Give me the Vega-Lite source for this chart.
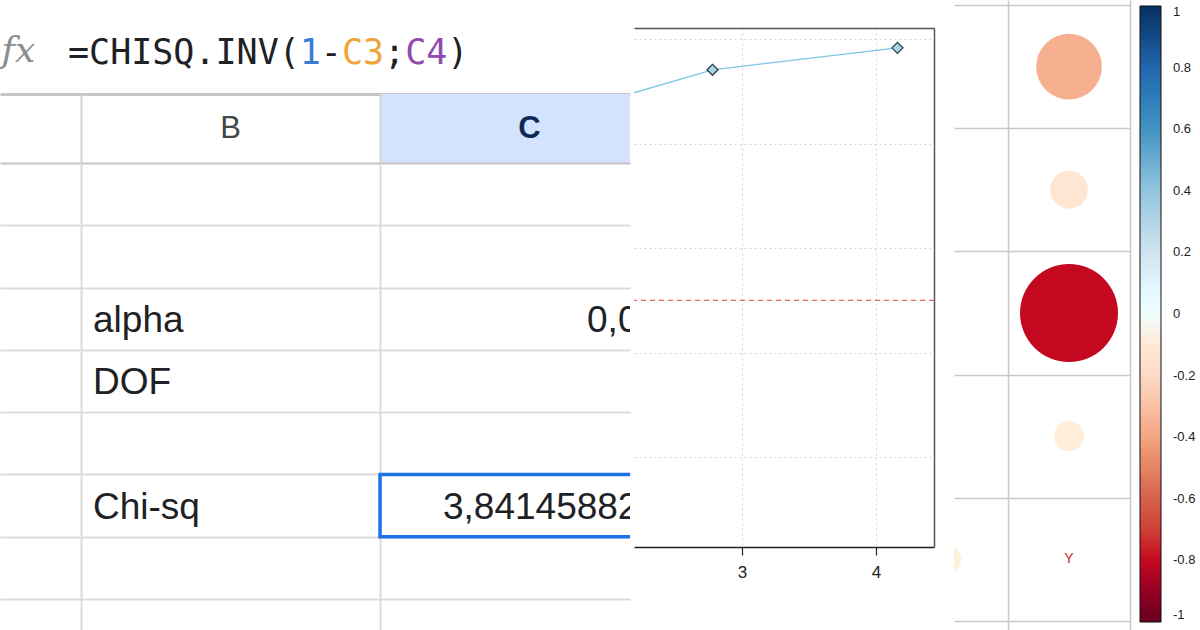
{
  "$schema": "https://vega.github.io/schema/vega-lite/v6.json",
  "padding": 0,
  "background": "white",
  "spacing": 3,
  "bounds": "full",
  "config": {"view": {"stroke": null}, "font": "Liberation Sans", "text": {"font": "Liberation Sans"}},
  "hconcat": [
    {
      "spacing": 0,
      "bounds": "flush",
      "vconcat": [
        {
          "width": 630,
          "height": 94,
          "data": {"values": [
            {"pos": -3.15, "text": "fx", "kind": "icon"},
            {"pos": 0, "text": "=CHISQ.INV(", "kind": "plain"},
            {"pos": 11, "text": "1", "kind": "number"},
            {"pos": 12, "text": "-", "kind": "plain"},
            {"pos": 13, "text": "C3", "kind": "ref1"},
            {"pos": 15, "text": ";", "kind": "plain"},
            {"pos": 16, "text": "C4", "kind": "ref2"},
            {"pos": 18, "text": ")", "kind": "plain"}
          ]},
          "layer": [
            {
              "transform": [{"filter": "datum.kind != 'icon'"}],
              "mark": {"type": "text", "font": "DejaVu Sans Mono", "fontSize": 35, "align": "left", "baseline": "alphabetic", "dy": 17},
              "encoding": {
                "x": {"field": "pos", "type": "quantitative", "scale": {"domain": [-3.227, 26.67], "nice": false, "zero": false},
                      "axis": {"orient": "bottom", "domain": true, "domainColor": "#c6c6c6", "domainWidth": 3, "ticks": false, "labels": false, "grid": false, "title": null}},
                "text": {"field": "text"},
                "color": {"field": "kind", "type": "nominal", "scale": {"domain": ["plain", "number", "ref1", "ref2"], "range": ["#202124", "#3a7bd5", "#f1a33c", "#8f4bb0"]}, "legend": null}
              }
            },
            {
              "transform": [{"filter": "datum.kind == 'icon'"}],
              "mark": {"type": "text", "font": "DejaVu Serif", "fontStyle": "italic", "fontSize": 36, "align": "left", "baseline": "alphabetic", "dy": 15, "color": "#8a8d91"},
              "encoding": {
                "x": {"field": "pos", "type": "quantitative", "scale": {"domain": [-3.227, 26.67], "nice": false, "zero": false},
                      "axis": {"orient": "bottom", "domain": true, "domainColor": "#c6c6c6", "domainWidth": 3, "ticks": false, "labels": false, "grid": false, "title": null}},
                "text": {"field": "text"}
              }
            }
          ]
        },
        {
          "width": 630,
          "height": 69,
          "data": {"values": [
            {"c": 2, "label": "B", "sel": "no"},
            {"c": 3, "label": "C", "sel": "yes"}
          ]},
          "transform": [
            {"calculate": "datum.c - 0.5", "as": "lo"},
            {"calculate": "datum.c + 0.5", "as": "hi"}
          ],
          "layer": [
            {
              "transform": [{"filter": "datum.sel == 'yes'"}],
              "mark": {"type": "rect", "color": "#d3e3fd", "clip": true},
              "encoding": {
                "x": {"field": "lo", "type": "quantitative", "scale": {"domain": [1.229, 3.336], "nice": false, "zero": false},
                      "axis": {"orient": "bottom", "domain": true, "domainColor": "#c6c6c6", "domainWidth": 2, "ticks": false, "labels": false, "grid": true, "gridColor": "#d3d3d3", "gridWidth": 2, "values": [1.5, 2.5], "title": null, "zindex": 1}},
                "x2": {"field": "hi"}
              }
            },
            {
              "transform": [{"filter": "datum.sel == 'no'"}],
              "mark": {"type": "text", "fontSize": 31, "baseline": "middle", "color": "#444746"},
              "encoding": {
                "x": {"field": "c", "type": "quantitative", "scale": {"domain": [1.229, 3.336], "nice": false, "zero": false},
                      "axis": {"orient": "bottom", "domain": true, "domainColor": "#c6c6c6", "domainWidth": 2, "ticks": false, "labels": false, "grid": true, "gridColor": "#d3d3d3", "gridWidth": 2, "values": [1.5, 2.5], "title": null, "zindex": 1}},
                "text": {"field": "label"}
              }
            },
            {
              "transform": [{"filter": "datum.sel == 'yes'"}],
              "mark": {"type": "text", "fontSize": 31, "fontWeight": "bold", "baseline": "middle", "color": "#0d2a57"},
              "encoding": {
                "x": {"field": "c", "type": "quantitative", "scale": {"domain": [1.229, 3.336], "nice": false, "zero": false},
                      "axis": {"orient": "bottom", "domain": true, "domainColor": "#c6c6c6", "domainWidth": 2, "ticks": false, "labels": false, "grid": true, "gridColor": "#d3d3d3", "gridWidth": 2, "values": [1.5, 2.5], "title": null, "zindex": 1}},
                "text": {"field": "label"}
              }
            }
          ]
        },
        {
          "width": 630,
          "height": 467,
          "data": {"values": [
            {"c": 2, "r": 3, "text": "alpha", "kind": "label", "selected": false},
            {"c": 2, "r": 4, "text": "DOF", "kind": "label", "selected": false},
            {"c": 2, "r": 6, "text": "Chi-sq", "kind": "label", "selected": false},
            {"c": 3, "r": 3, "text": "0,05", "kind": "value", "selected": false},
            {"c": 3, "r": 4, "text": "1", "kind": "value", "selected": false},
            {"c": 3, "r": 6, "text": "3,841458821", "kind": "value", "selected": true}
          ]},
          "transform": [
            {"calculate": "datum.c - 0.5", "as": "lo"},
            {"calculate": "datum.c + 0.5", "as": "hi"},
            {"calculate": "datum.r - 0.5", "as": "rlo"},
            {"calculate": "datum.r + 0.5", "as": "rhi"}
          ],
          "layer": [
            {
              "transform": [{"filter": "datum.kind == 'label'"}],
              "mark": {"type": "text", "fontSize": 37, "align": "left", "baseline": "alphabetic", "dx": 12, "dy": 13, "color": "#202124", "clip": true},
              "encoding": {
                "x": {"field": "lo", "type": "quantitative", "scale": {"domain": [1.229, 3.336], "nice": false, "zero": false},
                      "axis": {"orient": "bottom", "domain": false, "ticks": false, "labels": false, "grid": true, "gridColor": "#dcdcdc", "gridWidth": 2, "values": [1.5, 2.5], "title": null}},
                "y": {"field": "r", "type": "quantitative", "scale": {"domain": [0.5, 7.996], "reverse": true, "nice": false, "zero": false},
                      "axis": {"domain": false, "ticks": false, "labels": false, "grid": true, "gridColor": "#dcdcdc", "gridWidth": 2, "values": [1.5, 2.5, 3.5, 4.5, 5.5, 6.5, 7.5], "title": null, "minExtent": 0, "maxExtent": 0}},
                "text": {"field": "text"}
              }
            },
            {
              "transform": [{"filter": "datum.kind == 'value'"}],
              "mark": {"type": "text", "fontSize": 37, "align": "right", "baseline": "alphabetic", "dx": -20, "dy": 13, "color": "#202124", "clip": true},
              "encoding": {
                "x": {"field": "hi", "type": "quantitative", "scale": {"domain": [1.229, 3.336], "nice": false, "zero": false},
                      "axis": {"orient": "bottom", "domain": false, "ticks": false, "labels": false, "grid": true, "gridColor": "#dcdcdc", "gridWidth": 2, "values": [1.5, 2.5], "title": null}},
                "y": {"field": "r", "type": "quantitative", "scale": {"domain": [0.5, 7.996], "reverse": true, "nice": false, "zero": false},
                      "axis": {"domain": false, "ticks": false, "labels": false, "grid": true, "gridColor": "#dcdcdc", "gridWidth": 2, "values": [1.5, 2.5, 3.5, 4.5, 5.5, 6.5, 7.5], "title": null, "minExtent": 0, "maxExtent": 0}},
                "text": {"field": "text"}
              }
            },
            {
              "transform": [{"filter": "datum.selected"}],
              "mark": {"type": "rect", "fill": "transparent", "stroke": "#1a73e8", "strokeWidth": 3.5, "clip": true},
              "encoding": {
                "x": {"field": "lo", "type": "quantitative", "scale": {"domain": [1.229, 3.336], "nice": false, "zero": false},
                      "axis": {"orient": "bottom", "domain": false, "ticks": false, "labels": false, "grid": true, "gridColor": "#dcdcdc", "gridWidth": 2, "values": [1.5, 2.5], "title": null}},
                "x2": {"field": "hi"},
                "y": {"field": "rlo", "type": "quantitative", "scale": {"domain": [0.5, 7.996], "reverse": true, "nice": false, "zero": false},
                      "axis": {"domain": false, "ticks": false, "labels": false, "grid": true, "gridColor": "#dcdcdc", "gridWidth": 2, "values": [1.5, 2.5, 3.5, 4.5, 5.5, 6.5, 7.5], "title": null, "minExtent": 0, "maxExtent": 0}},
                "y2": {"field": "rhi"}
              }
            }
          ]
        }
      ]
    },
    {
      "spacing": 0,
      "bounds": "flush",
      "vconcat": [
        {
          "width": 300,
          "height": 28,
          "data": {"values": []},
          "mark": "point"
        },
        {
          "width": 300,
          "height": 519,
          "data": {"values": [
            {"x": 1.9, "y": 0.875},
            {"x": 2.78, "y": 0.941},
            {"x": 4.16, "y": 0.983}
          ]},
          "layer": [
            {
              "mark": {"type": "line", "color": "#7cc7e3", "strokeWidth": 1.3, "clip": true},
              "encoding": {
                "x": {"field": "x", "type": "quantitative", "scale": {"domain": [2.194, 4.433], "nice": false, "zero": false},
                      "axis": {"orient": "bottom", "values": [3, 4], "format": "d", "domain": true, "domainColor": "#222222", "domainWidth": 1.5, "ticks": true, "tickColor": "#222222", "tickSize": 8, "tickWidth": 1.2, "labels": true, "labelFont": "Liberation Sans", "labelFontSize": 17, "labelColor": "#222222", "labelPadding": 9, "grid": true, "gridColor": "#d4d4d4", "gridDash": [2, 3], "gridWidth": 1, "title": null}},
                "y": {"field": "y", "type": "quantitative", "scale": {"domain": [0.028, 1.021], "nice": false, "zero": false},
                      "axis": {"orient": "left", "values": [0.2, 0.4, 0.6, 0.8, 1.0], "domain": false, "ticks": false, "labels": false, "grid": true, "gridColor": "#d4d4d4", "gridDash": [2, 3], "gridWidth": 1, "title": null, "minExtent": 0, "maxExtent": 0}}
              }
            },
            {
              "data": {"values": [{"threshold": 0.5}]},
              "mark": {"type": "rule", "color": "#e06666", "strokeDash": [5, 4], "strokeWidth": 1.2},
              "encoding": {
                "y": {"field": "threshold", "type": "quantitative", "scale": {"domain": [0.028, 1.021], "nice": false, "zero": false}, "axis": null}
              }
            },
            {
              "mark": {"type": "point", "shape": "diamond", "size": 121, "filled": true, "fill": "#a6d5e8", "stroke": "#2d3e46", "strokeWidth": 1.3, "opacity": 1, "clip": true},
              "encoding": {
                "x": {"field": "x", "type": "quantitative", "scale": {"domain": [2.194, 4.433], "nice": false, "zero": false},
                      "axis": {"orient": "top", "domain": true, "domainColor": "#555555", "domainWidth": 1.5, "ticks": false, "labels": false, "grid": false, "title": null, "minExtent": 0, "maxExtent": 0}},
                "y": {"field": "y", "type": "quantitative", "scale": {"domain": [0.028, 1.021], "nice": false, "zero": false},
                      "axis": {"orient": "right", "domain": true, "domainColor": "#555555", "domainWidth": 1.5, "ticks": false, "labels": false, "grid": false, "title": null, "minExtent": 17, "maxExtent": 17}}
              }
            }
          ],
          "resolve": {"axis": {"x": "independent", "y": "independent"}}
        }
      ]
    },
    {
      "width": 176,
      "height": 630,
      "layer": [
        {
          "data": {"values": [
            {"c": 1, "r": 1, "corr": -0.36},
            {"c": 1, "r": 2, "corr": -0.12},
            {"c": 1, "r": 3, "corr": -0.8},
            {"c": 1, "r": 4, "corr": -0.075},
            {"c": 0, "r": 5, "corr": -0.065}
          ]},
          "transform": [{"calculate": "abs(datum.corr)", "as": "mag"}],
          "mark": {"type": "circle", "opacity": 1, "clip": true},
          "encoding": {
            "x": {"field": "c", "type": "quantitative", "scale": {"domain": [0.057, 1.5], "nice": false, "zero": false},
                  "axis": {"orient": "bottom", "values": [0.5, 1.5], "domain": false, "ticks": false, "labels": false, "grid": true, "gridColor": "#c8c8c8", "gridWidth": 1.5, "title": null, "minExtent": 0, "maxExtent": 0}},
            "y": {"field": "r", "type": "quantitative", "scale": {"domain": [0.459, 5.573], "reverse": true, "nice": false, "zero": false},
                  "axis": {"orient": "left", "values": [0.5, 1.5, 2.5, 3.5, 4.5, 5.5], "domain": false, "ticks": false, "labels": false, "grid": true, "gridColor": "#c8c8c8", "gridWidth": 1.5, "title": null, "minExtent": 0, "maxExtent": 0}},
            "size": {"field": "mag", "type": "quantitative", "scale": {"domain": [0, 1], "range": [0, 12005]}, "legend": null},
            "color": {"field": "corr", "type": "quantitative",
                      "scale": {"domain": [-1, -0.8, -0.6, -0.4, -0.2, 0, 0.2, 0.4, 0.6, 0.8, 1],
                                "range": ["#67001f", "#c4081f", "#d6604d", "#f4a582", "#fddbc7", "#ffffff", "#d1e5f0", "#92c5de", "#4393c3", "#2166ac", "#053061"]},
                      "legend": {"orient": "none", "legendX": 186, "legendY": 6, "direction": "vertical", "gradientLength": 616, "gradientThickness": 21,
                                 "gradientStrokeColor": "#111111", "gradientStrokeWidth": 1,
                                 "values": [-1, -0.8, -0.6, -0.4, -0.2, 0, 0.2, 0.4, 0.6, 0.8, 1],
                                 "labelExpr": "'' + datum.value", "labelFont": "Liberation Sans", "labelFontSize": 13, "labelColor": "#222222",
                                 "labelOffset": 12, "labelFlush": false, "labelOverlap": false, "title": null, "padding": 0}}
          }
        },
        {
          "data": {"values": [{"c": 1, "r": 5, "label": "Y"}]},
          "mark": {"type": "text", "color": "#cc1f1a", "fontSize": 14, "baseline": "middle"},
          "encoding": {
            "x": {"field": "c", "type": "quantitative", "scale": {"domain": [0.057, 1.5], "nice": false, "zero": false},
                  "axis": {"orient": "bottom", "values": [0.5, 1.5], "domain": false, "ticks": false, "labels": false, "grid": true, "gridColor": "#c8c8c8", "gridWidth": 1.5, "title": null, "minExtent": 0, "maxExtent": 0}},
            "y": {"field": "r", "type": "quantitative", "scale": {"domain": [0.459, 5.573], "reverse": true, "nice": false, "zero": false},
                  "axis": {"orient": "left", "values": [0.5, 1.5, 2.5, 3.5, 4.5, 5.5], "domain": false, "ticks": false, "labels": false, "grid": true, "gridColor": "#c8c8c8", "gridWidth": 1.5, "title": null, "minExtent": 0, "maxExtent": 0}},
            "text": {"field": "label"}
          }
        }
      ]
    }
  ]
}
